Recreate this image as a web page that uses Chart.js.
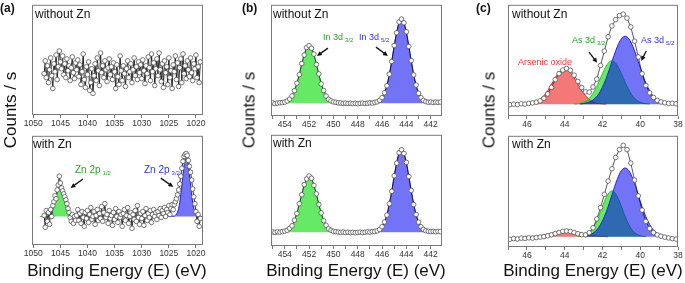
<!DOCTYPE html>
<html>
<head>
<meta charset="utf-8">
<script src="https://cdn.jsdelivr.net/npm/chart.js@4.4.1/dist/chart.umd.min.js"></script>
<style>
  body { margin: 0; background: #fff; }
  #fig { position: relative; width: 685px; height: 283px; overflow: hidden; font-family: "Liberation Sans", Arial, sans-serif; color: #111; }
  #fig canvas { position: absolute; }
  .t { position: absolute; white-space: nowrap; line-height: 1; }
  .pl { font-weight: bold; font-size: 12px; }
  .cond { font-size: 12px; color: #111; }
  .xt { font-size: 17px; transform: translateX(-50%); }
  .yt { font-size: 17px; transform: translate(-50%, -50%) rotate(-90deg); }
  .ann { font-size: 9px; }
  .sub { font-size: 6px; position: relative; top: 2px; margin-left: 2px; }
  .g { color: #2aa52a; }
  .b { color: #3434e6; }
  .r { color: #ee3838; }
</style>
</head>
<body>
<div id="fig">
  <canvas id="aTop"></canvas>
  <canvas id="aBot"></canvas>
  <canvas id="bTop"></canvas>
  <canvas id="bBot"></canvas>
  <canvas id="cTop"></canvas>
  <canvas id="cBot"></canvas>

  <div class="t pl" style="left:0px;top:2px">(a)</div>
  <div class="t pl" style="left:242px;top:2px">(b)</div>
  <div class="t pl" style="left:476px;top:2px">(c)</div>

  <div class="t cond" style="left:35px;top:8px">without Zn</div>
  <div class="t cond" style="left:33px;top:138px">with Zn</div>
  <div class="t cond" style="left:273px;top:8px">without Zn</div>
  <div class="t cond" style="left:273px;top:137px">with Zn</div>
  <div class="t cond" style="left:512px;top:8px">without Zn</div>
  <div class="t cond" style="left:512px;top:138px">with Zn</div>

  <div class="t yt" style="left:10px;top:110px">Counts / s</div>
  <div class="t yt" style="left:249px;top:110px">Counts / s</div>
  <div class="t yt" style="left:489px;top:110px">Counts / s</div>

  <div class="t xt" style="left:117px;top:262px">Binding Energy (E) (eV)</div>
  <div class="t xt" style="left:356px;top:262px">Binding Energy (E) (eV)</div>
  <div class="t xt" style="left:593px;top:262px">Binding Energy (E) (eV)</div>

  <div class="t g" style="left:75px;top:165px;font-size:10px">Zn 2p<span class="sub">1/2</span></div>
  <div class="t b" style="left:144px;top:165px;font-size:10px">Zn 2p<span class="sub">3/2</span></div>
  <div class="t ann g" style="left:323px;top:33px">In 3d<span class="sub">3/2</span></div>
  <div class="t ann b" style="left:359px;top:33px">In 3d<span class="sub">5/2</span></div>
  <div class="t ann r" style="left:518px;top:58px">Arsenic oxide</div>
  <div class="t ann g" style="left:572px;top:36px">As 3d<span class="sub">3/2</span></div>
  <div class="t ann b" style="left:641px;top:36px">As 3d<span class="sub">5/2</span></div>
</div>
<script>
// ---------- (a) Zn 2p ----------
const aEnergy = [
  1048.0,1047.8,1047.6,1047.4,1047.2,1047.0,1046.8,1046.6,1046.4,1046.2,
  1046.0,1045.8,1045.6,1045.4,1045.2,1045.0,1044.8,1044.6,1044.4,1044.2,
  1044.0,1043.8,1043.6,1043.4,1043.2,1043.0,1042.8,1042.6,1042.4,1042.2,
  1042.0,1041.8,1041.6,1041.4,1041.2,1041.0,1040.8,1040.6,1040.4,1040.2,
  1040.0,1039.8,1039.6,1039.4,1039.2,1039.0,1038.8,1038.6,1038.4,1038.2,
  1038.0,1037.8,1037.6,1037.4,1037.2,1037.0,1036.8,1036.6,1036.4,1036.2,
  1036.0,1035.8,1035.6,1035.4,1035.2,1035.0,1034.8,1034.6,1034.4,1034.2,
  1034.0,1033.8,1033.6,1033.4,1033.2,1033.0,1032.8,1032.6,1032.4,1032.2,
  1032.0,1031.8,1031.6,1031.4,1031.2,1031.0,1030.8,1030.6,1030.4,1030.2,
  1030.0,1029.8,1029.6,1029.4,1029.2,1029.0,1028.8,1028.6,1028.4,1028.2,
  1028.0,1027.8,1027.6,1027.4,1027.2,1027.0,1026.8,1026.6,1026.4,1026.2,
  1026.0,1025.8,1025.6,1025.4,1025.2,1025.0,1024.8,1024.6,1024.4,1024.2,
  1024.0,1023.8,1023.6,1023.4,1023.2,1023.0,1022.8,1022.6,1022.4,1022.2,
  1022.0,1021.8,1021.6,1021.4,1021.2,1021.0,1020.8,1020.6,1020.4,1020.2,
  1020.0,1019.8,1019.6,1019.4,1019.2
];
const aTopCounts = [
  42,55,38,50,33,46,58,40,27,52,44,61,36,49,65,
  54,47,60,41,52,38,57,45,50,35,48,59,43,37,53,
  46,56,39,51,31,44,62,36,28,49,41,54,25,33,47,
  22,40,52,35,58,45,30,63,43,50,38,55,46,34,48,
  57,41,49,36,53,44,27,51,39,31,60,45,35,50,42,
  29,47,55,38,44,52,33,46,58,40,49,36,54,43,51,
  37,56,45,32,50,42,59,48,35,62,44,53,30,47,57,
  40,63,46,34,52,28,55,43,49,31,58,38,45,27,51,
  44,60,36,53,29,48,57,33,62,42,50,37,55,46,39,
  58,43,35,52,47,61,38,49,33,54
];
const aBotCounts = [
  30,18,35,24,33,21,36,29,40,44,50,47,56,61,70,
  63,58,55,52,49,46,42,37,33,28,24,31,22,29,25,
  30,36,25,32,22,34,28,19,33,27,35,23,31,38,26,
  29,34,21,30,36,25,32,27,39,24,33,42,28,31,22,
  35,27,30,20,33,26,37,29,23,34,28,31,19,32,36,
  25,30,38,22,29,33,17,31,26,35,24,40,28,21,32,
  27,34,20,30,37,25,32,28,35,23,31,36,29,33,26,
  34,30,37,28,35,32,38,29,36,33,40,31,37,41,36,
  41,44,47,51,56,62,70,78,85,90,92,93,91,86,80,
  74,66,57,49,42,34,24,31,19,27
];
const aZn12Energy = [1048.8,1047.3,1047.1,1046.9,1046.7,1046.5,1046.3,1046.1,1045.9,1045.7,1045.5,1045.3,1045.1,
  1044.9,1044.7,1044.5,1044.3,1044.1,1043.9,1043.7,1043.5,1043.3,1043.1,1042.9,1041.8];
const aZn12Fit = [29,29.2,29.6,30.2,31.4,33.5,36.6,40.9,46.2,51.9,57,60.7,62,60.7,57,51.9,46.2,40.9,36.6,33.5,31.4,30.2,29.6,29.2,29];
const aZn32Energy = [1026.8,1024.0,1023.8,1023.6,1023.4,1023.2,1023.0,1022.8,1022.6,1022.4,1022.2,1022.0,1021.8,
  1021.6,1021.4,1021.2,1021.0,1020.8,1020.6,1020.4,1020.2,1020.0,1019.8,1019.6,1018.7];
const aZn32Fit = [29,29.4,30,31.2,33.5,37.2,43,51,60.7,71.3,80.8,87.6,90,87.6,80.8,71.3,60.7,51,43,37.2,33.5,31.2,30,29.4,29];
const aBaseline = 29;

// ---------- (b) In 3d ----------
const bEnergy = [
  455.0,454.8,454.6,454.4,454.2,454.0,453.8,453.6,453.4,453.2,
  453.0,452.8,452.6,452.4,452.2,452.0,451.8,451.6,451.4,451.2,
  451.0,450.8,450.6,450.4,450.2,450.0,449.8,449.6,449.4,449.2,
  449.0,448.8,448.6,448.4,448.2,448.0,447.8,447.6,447.4,447.2,
  447.0,446.8,446.6,446.4,446.2,446.0,445.8,445.6,445.4,445.2,
  445.0,444.8,444.6,444.4,444.2,444.0,443.8,443.6,443.4,443.2,
  443.0,442.8,442.6,442.4,442.2,442.0,441.8,441.6,441.4,441.2
];
const bTopCounts = [
  13.4,12.6,13.1,13.5,13.6,14.1,15.3,17.2,20.4,25.8,
  33.4,42.0,53.3,62.0,69.6,71.5,68.8,62.9,52.4,42.8,
  32.6,25.9,20.3,17.0,15.4,14.3,13.9,13.4,13.2,12.8,
  13.1,12.7,13.0,12.6,12.9,12.5,12.8,13.1,12.7,13.0,
  13.4,13.2,13.8,14.4,15.9,18.7,23.6,30.8,42.5,55.4,
  71.6,84.6,95.5,98.5,94.7,85.6,70.7,56.3,41.8,31.4,
  23.1,18.6,15.9,14.6,14.0,14.2,13.8,14.1,13.9,14.2
];
const bBotCounts = [
  14.3,13.8,14.5,14.0,14.6,15.1,16.0,17.9,20.5,26.3,
  33.0,42.9,52.1,62.3,68.2,71.2,68.9,61.5,53.0,42.2,
  33.6,25.7,21.1,17.4,16.0,14.9,14.6,14.1,13.8,14.2,
  13.7,14.0,13.6,13.9,13.5,13.8,14.1,13.7,14.0,14.4,
  14.1,14.6,14.8,15.4,16.8,19.6,24.4,31.4,42.9,55.6,
  71.4,84.2,94.8,97.8,94.0,85.0,70.6,56.5,42.1,32.0,
  24.3,19.6,16.9,15.6,15.0,14.7,14.9,14.5,14.8,14.6
];
const bIn32Energy = [455.1,454.4,454.2,454.0,453.8,453.6,453.4,453.2,453.0,452.8,452.6,452.4,452.2,452.0,
  451.8,451.6,451.4,451.2,451.0,450.8,450.6,450.4,450.2,450.0,449.8,449.6,449.3];
const bIn32Top = [13,13.1,13.3,13.8,14.8,16.7,20.0,25.4,32.9,42.4,52.8,62.4,69.2,71.7,69.2,62.4,52.8,42.4,32.9,25.4,20.0,16.7,14.8,13.8,13.3,13.1,13];
const bIn32Bot = [14,14.1,14.3,14.8,15.7,17.6,20.8,26.0,33.3,42.6,52.6,61.9,68.6,71,68.6,61.9,52.6,42.6,33.3,26.0,20.8,17.6,15.7,14.8,14.3,14.1,14];
const bIn52Energy = [447.6,446.8,446.6,446.4,446.2,446.0,445.8,445.6,445.4,445.2,445.0,444.8,444.6,444.4,
  444.2,444.0,443.8,443.6,443.4,443.2,443.0,442.8,442.6,442.4,442.2,442.0,441.1];
const bIn52Top = [13,13.2,13.5,14.1,15.6,18.4,23.3,31.1,42.1,55.9,71.1,85.1,95.1,98.7,95.1,85.1,71.1,55.9,42.1,31.1,23.3,18.4,15.6,14.1,13.5,13.2,13];
const bIn52Bot = [14,14.2,14.4,15.1,16.5,19.3,24.1,31.7,42.5,56.1,71.0,84.6,94.5,98,94.5,84.6,71.0,56.1,42.5,31.7,24.1,19.3,16.5,15.1,14.4,14.2,14];
const bBaseTop = 13, bBaseBot = 14;

// ---------- (c) As 3d ----------
const cEnergy = [
  46.9,46.7,46.5,46.3,46.1,45.9,45.7,45.5,45.3,45.1,
  44.9,44.7,44.5,44.3,44.1,43.9,43.7,43.5,43.3,43.1,
  42.9,42.7,42.5,42.3,42.1,41.9,41.7,41.5,41.3,41.1,
  40.9,40.7,40.5,40.3,40.1,39.9,39.7,39.5,39.3,39.1,
  38.9,38.7,38.5,38.3,38.1
];
const cTopCounts = [
  11.5,12.0,11.6,12.4,12.1,12.8,13.3,14.0,15.4,18.0,
  22.4,29.2,36.9,43.1,46.7,48.3,46.5,41.5,35.2,28.8,
  24.5,24.3,29.5,37.5,51.4,66.0,80.5,91.5,97.9,102.0,
  103.5,99.5,90.5,76.0,60.0,43.0,31.0,23.6,18.8,15.8,
  14.3,13.4,12.8,12.9,12.5
];
const cBotCounts = [
  7.8,8.6,8.2,9.0,8.7,9.3,9.0,9.6,10.1,10.5,
  11.4,12.4,13.6,14.8,15.9,16.3,15.8,14.7,13.5,12.5,
  12.4,14.5,19.5,28.5,40.0,53.5,67.0,79.5,91.0,99.0,
  103.3,99.0,85.3,68.0,52.0,37.5,26.0,18.7,14.6,12.3,
  11.0,10.0,9.2,8.5,8.0
];
const cOxideEnergyTop = [46.2,46.0,45.8,45.6,45.4,45.2,45.0,44.8,44.6,44.4,44.2,44.0,43.8,43.6,43.4,43.2,43.0,42.8,42.6,42.4,42.2,42.0,41.8];
const cOxideTop = [12.1,12.3,12.8,13.7,15.5,18.6,23.0,28.9,35.5,41.8,46.3,48,46.3,41.8,35.5,28.9,23.0,18.6,15.5,13.7,12.8,12.3,12.1];
const cAs32EnergyTop = [43.5,43.3,43.1,42.9,42.7,42.5,42.3,42.1,41.9,41.7,41.5,41.3,41.1,40.9,40.7,40.5,40.3,40.1,39.9,39.7,39.5];
const cAs32Top = [12.2,12.5,13.3,14.9,17.9,23.0,30.1,38.7,47.2,53.6,56,53.6,47.2,38.7,30.1,23.0,17.9,14.9,13.3,12.5,12.2];
const cAs52EnergyTop = [43.2,43.0,42.8,42.6,42.4,42.2,42.0,41.8,41.6,41.4,41.2,41.0,40.8,40.6,40.4,40.2,40.0,39.8,39.6,39.4,39.2,39.0,38.8,38.6,38.4];
const cAs52Top = [12.3,12.6,13.5,15.0,17.8,22.4,29.2,38.3,49.3,60.8,71.1,78.4,81,78.4,71.1,60.8,49.3,38.3,29.2,22.4,17.8,15.0,13.5,12.6,12.3];
const cOxideEnergyBot = [46.1,45.9,45.7,45.5,45.3,45.1,44.9,44.7,44.5,44.3,44.1,43.9,43.7,43.5,43.3,43.1,42.9,42.7,42.5,42.3,42.1,41.9,41.7];
const cOxideBot = [10.4,10.6,10.8,11.1,11.6,12.3,13.0,13.9,14.8,15.6,16.1,16.3,16.1,15.6,14.8,13.9,13.0,12.3,11.6,11.1,10.8,10.6,10.4];
const cAs32EnergyBot = [43.3,43.1,42.9,42.7,42.5,42.3,42.1,41.9,41.7,41.5,41.3,41.1,40.9,40.7,40.5,40.3,40.1,39.9,39.7];
const cAs32Bot = [10.5,11.0,12.1,14.6,19.2,26.5,36.0,46.2,54.0,57,54.0,46.2,36.0,26.5,19.2,14.6,12.1,11.0,10.5];
const cAs52EnergyBot = [43.0,42.8,42.6,42.4,42.2,42.0,41.8,41.6,41.4,41.2,41.0,40.8,40.6,40.4,40.2,40.0,39.8,39.6,39.4,39.2,39.0,38.8,38.6];
const cAs52Bot = [10.8,11.5,12.9,15.4,19.8,26.4,35.5,46.7,58.8,69.7,77.5,80.3,77.5,69.7,58.8,46.7,35.5,26.4,19.8,15.4,12.9,11.5,10.8];
const cBaseTop = 12, cBaseBot = 10.3;

// colours
const GREEN_FILL = 'rgba(0,220,0,0.6)', GREEN_LINE = '#30c030';
const BLUE_FILL = 'rgba(0,0,240,0.55)', BLUE_LINE = '#2020dd';
const RED_FILL = 'rgba(238,30,30,0.6)', RED_LINE = '#e03030';

function pts(xs, ys) {
  return xs.map((x, i) => ({ x: x, y: ys[i] }));
}

function measured(xs, ys, lineW) {
  return {
    data: pts(xs, ys),
    showLine: true,
    borderColor: '#111',
    borderWidth: lineW,
    pointRadius: 2.3,
    pointBorderColor: '#555',
    pointBorderWidth: 0.8,
    pointBackgroundColor: '#fff',
    fill: false
  };
}

function peak(xs, ys, base, line, fill) {
  return {
    data: pts(xs, ys),
    showLine: true,
    borderColor: line,
    borderWidth: 1,
    backgroundColor: fill,
    fill: { value: base },
    pointRadius: 0,
    cubicInterpolationMode: 'monotone'
  };
}

const framePlugin = {
  id: 'frame',
  afterDraw(chart) {
    const { ctx, chartArea: a } = chart;
    ctx.save();
    ctx.strokeStyle = '#7a7a7a';
    ctx.lineWidth = 1;
    ctx.strokeRect(a.left + 0.5, a.top + 0.5, a.right - a.left - 1, a.bottom - a.top - 1);
    ctx.restore();
  }
};

const arrowPlugin = {
  id: 'arrows',
  afterDatasetsDraw(chart, args, opts) {
    const xs = chart.scales.x, ys = chart.scales.y, ctx = chart.ctx;
    (opts.list || []).forEach(a => {
      const x1 = xs.getPixelForValue(a[0]), y1 = ys.getPixelForValue(a[1]);
      const x2 = xs.getPixelForValue(a[2]), y2 = ys.getPixelForValue(a[3]);
      const ang = Math.atan2(y2 - y1, x2 - x1);
      ctx.save();
      ctx.strokeStyle = '#111';
      ctx.fillStyle = '#111';
      ctx.lineWidth = 1.3;
      ctx.beginPath();
      ctx.moveTo(x1, y1);
      ctx.lineTo(x2 - 4 * Math.cos(ang), y2 - 4 * Math.sin(ang));
      ctx.stroke();
      ctx.beginPath();
      ctx.moveTo(x2, y2);
      ctx.lineTo(x2 - 5.5 * Math.cos(ang - 0.45), y2 - 5.5 * Math.sin(ang - 0.45));
      ctx.lineTo(x2 - 5.5 * Math.cos(ang + 0.45), y2 - 5.5 * Math.sin(ang + 0.45));
      ctx.closePath();
      ctx.fill();
      ctx.restore();
    });
  }
};

function makePanel(id, box, range, step, labelEvery, datasets, arrows) {
  const cv = document.getElementById(id);
  const padL = 22, padR = 22, padT = 3, axisH = 24;
  cv.width = box.w + padL + padR;
  cv.height = box.h + padT + axisH;
  cv.style.left = (box.x - padL) + 'px';
  cv.style.top = (box.y - padT) + 'px';
  return new Chart(cv, {
    type: 'scatter',
    data: { datasets: datasets },
    options: {
      responsive: false,
      animation: false,
      events: [],
      layout: { padding: { left: padL, right: padR, top: padT, bottom: 0 } },
      plugins: {
        legend: { display: false },
        tooltip: { enabled: false },
        arrows: { list: arrows || [] }
      },
      scales: {
        x: {
          type: 'linear',
          reverse: true,
          min: range[0],
          max: range[1],
          afterFit: s => { s.height = axisH; },
          border: { display: false },
          grid: { drawOnChartArea: false, drawTicks: true, tickLength: 3, color: '#777' },
          ticks: {
            stepSize: step,
            autoSkip: false,
            includeBounds: false,
            maxRotation: 0,
            padding: 1,
            color: '#333',
            font: { family: 'Liberation Sans', size: 8.5 },
            callback: v => (Math.round(v) % labelEvery === 0 ? v : '')
          }
        },
        y: { display: false, min: 0, max: box.h }
      }
    },
    plugins: [framePlugin, arrowPlugin]
  });
}

// (a)
makePanel('aTop', { x: 32, y: 3, w: 171, h: 112 }, [1018.7, 1050.24], 5, 5, [
  measured(aEnergy, aTopCounts, 0.9)
]);
makePanel('aBot', { x: 32, y: 134, w: 171, h: 111 }, [1018.7, 1050.24], 5, 5, [
  measured(aEnergy, aBotCounts, 0.9),
  peak(aZn32Energy, aZn32Fit, aBaseline, BLUE_LINE, BLUE_FILL),
  peak(aZn12Energy, aZn12Fit, aBaseline, GREEN_LINE, GREEN_FILL)
], [[1040.83, 67, 1043.14, 58], [1026.49, 68, 1024.17, 59]]);

// (b)
makePanel('bTop', { x: 271, y: 3, w: 171, h: 113 }, [441.07, 455.13], 1, 2, [
  measured(bEnergy, bTopCounts, 0.7),
  peak(bIn52Energy, bIn52Top, bBaseTop, BLUE_LINE, BLUE_FILL),
  peak(bIn32Energy, bIn32Top, bBaseTop, GREEN_LINE, GREEN_FILL)
], [[450.45, 69, 451.35, 61], [446.5, 70, 445.52, 61]]);
makePanel('bBot', { x: 271, y: 133, w: 171, h: 113 }, [441.07, 455.13], 1, 2, [
  measured(bEnergy, bBotCounts, 0.7),
  peak(bIn52Energy, bIn52Bot, bBaseBot, BLUE_LINE, BLUE_FILL),
  peak(bIn32Energy, bIn32Bot, bBaseBot, GREEN_LINE, GREEN_FILL)
]);

// (c)
makePanel('cTop', { x: 508, y: 3, w: 170, h: 113 }, [38, 47], 1, 2, [
  measured(cEnergy, cTopCounts, 0.7),
  peak(cAs52EnergyTop, cAs52Top, cBaseTop, BLUE_LINE, BLUE_FILL),
  peak(cAs32EnergyTop, cAs32Top, cBaseTop, GREEN_LINE, GREEN_FILL),
  peak(cOxideEnergyTop, cOxideTop, cBaseTop, RED_LINE, RED_FILL)
], [[42.71, 65, 42.28, 54], [39.68, 66, 39.95, 56]]);
makePanel('cBot', { x: 508, y: 134, w: 170, h: 113 }, [38, 47], 1, 2, [
  measured(cEnergy, cBotCounts, 0.7),
  peak(cAs52EnergyBot, cAs52Bot, cBaseBot, BLUE_LINE, BLUE_FILL),
  peak(cAs32EnergyBot, cAs32Bot, cBaseBot, GREEN_LINE, GREEN_FILL),
  peak(cOxideEnergyBot, cOxideBot, cBaseBot, RED_LINE, RED_FILL)
]);
</script>
</body>
</html>
